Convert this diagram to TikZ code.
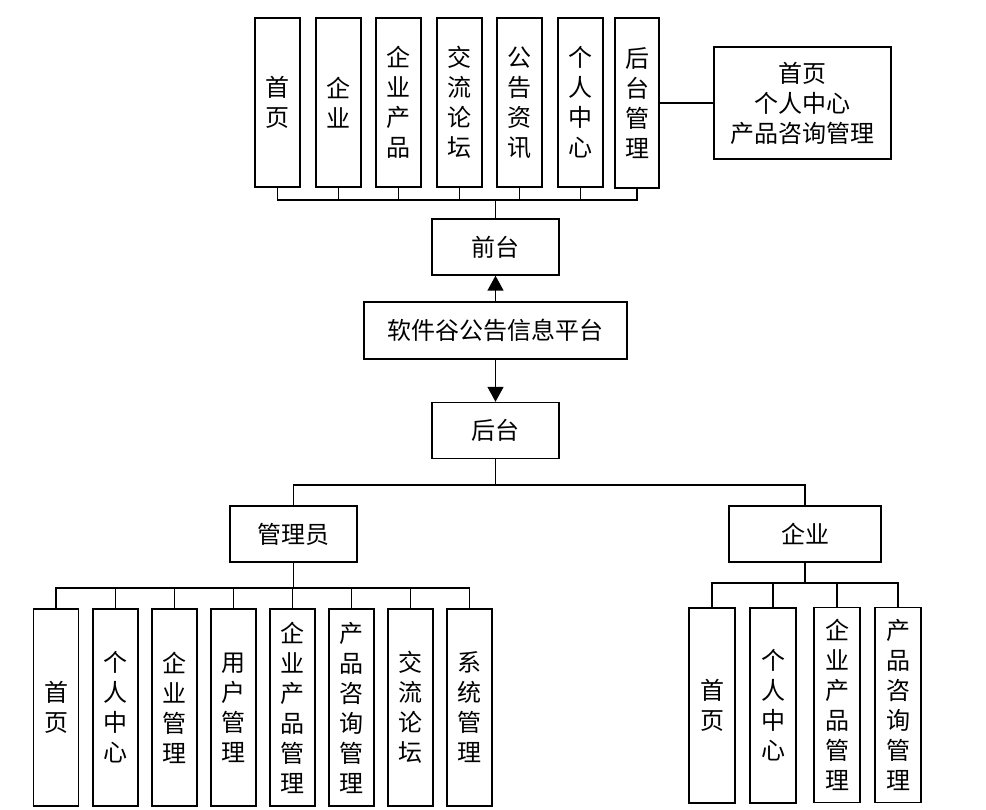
\documentclass[tikz,border=0pt]{standalone}
\usepackage{fontspec}
\setmainfont{Noto Sans CJK SC}
\usetikzlibrary{arrows.meta}

\begin{document}
\begin{tikzpicture}[x=1pt,y=-1pt,
    box/.style={draw,rectangle,line width=1.4pt,fill=white,text centered,
      inner sep=2pt,font=\fontsize{24}{30}\selectfont},
    tallbox/.style={box,align=center,minimum width=45pt},
    widebox/.style={box,minimum width=127pt,minimum height=56pt},
    link/.style={line width=1.4pt}]
    \path[use as bounding box,fill=white] (0,0) rectangle (986,810);
    % front pages
    \node[tallbox,minimum height=169pt] (home) at (277.5,102.5) {首\\页};
    \node[tallbox,minimum height=169pt] (company) at (338.5,102.5) {企\\业};
    \node[tallbox,minimum height=169pt] (product) at (398.5,102.5) {企\\业\\产\\品};
    \node[tallbox,minimum height=169pt] (forum) at (459.5,102.5) {交\\流\\论\\坛};
    \node[tallbox,minimum height=169pt] (notice) at (519.5,102.5) {公\\告\\资\\讯};
    \node[tallbox,minimum height=169pt] (personal) at (580.5,102.5) {个\\人\\中\\心};
    \node[tallbox,minimum height=170pt,minimum width=44pt] (admin) at (637,103) {后\\台\\管\\理};
    \node[box,align=center,minimum width=177pt,minimum height=112pt] (adminlist) at (802.5,103)
        {首页\\个人中心\\产品咨询管理};
    \draw[link] (admin) -- (adminlist);
    \coordinate (topbus) at (495.5,200);
    \draw[link] (home.south) |- (topbus);
    \draw[link] (company.south) |- (topbus);
    \draw[link] (product.south) |- (topbus);
    \draw[link] (forum.south) |- (topbus);
    \draw[link] (notice.south) |- (topbus);
    \draw[link] (personal.south) |- (topbus);
    \draw[link] (admin.south) |- (topbus);
    % platform
    \node[widebox] (front) at (495.5,247) {前台};
    \node[box,minimum width=263pt,minimum height=57pt] (platform) at (495.5,330.5) {软件谷公告信息平台};
    \node[widebox] (back) at (495.5,430.5) {后台};
    \draw[link] (topbus) -- (front.north);
    \draw[link,-{Triangle[length=15pt,width=16pt]}] (platform) -- (front);
    \draw[link,-{Triangle[length=15pt,width=16pt]}] (platform) -- (back);
    % back end roles
    \node[widebox] (manager) at (293.5,534) {管理员};
    \node[widebox,minimum width=152pt] (firm) at (805,534) {企业};
    \coordinate (backbus) at (495.5,485);
    \draw[link] (back.south) -- (backbus);
    \draw[link] (backbus) -| (manager.north);
    \draw[link] (backbus) -| (firm.north);
    % manager functions
    \node[tallbox,minimum height=197pt] (mhome) at (56,707.5) {首\\页};
    \node[tallbox,minimum height=197pt] (mpersonal) at (115.5,707.5) {个\\人\\中\\心};
    \node[tallbox,minimum height=197pt] (mfirm) at (174.5,707.5) {企\\业\\管\\理};
    \node[tallbox,minimum height=197pt] (muser) at (233.5,707.5) {用\\户\\管\\理};
    \node[tallbox,minimum height=197pt] (mproduct) at (292.5,707.5) {企\\业\\产\\品\\管\\理};
    \node[tallbox,minimum height=197pt] (mconsult) at (351.5,707.5) {产\\品\\咨\\询\\管\\理};
    \node[tallbox,minimum height=197pt] (mforum) at (410.5,707.5) {交\\流\\论\\坛};
    \node[tallbox,minimum height=197pt] (msystem) at (469.5,707.5) {系\\统\\管\\理};
    \coordinate (mbus) at (293.5,588);
    \draw[link] (manager.south) -- (mbus);
    \draw[link] (mbus) -| (mhome.north);
    \draw[link] (mbus) -| (mpersonal.north);
    \draw[link] (mbus) -| (mfirm.north);
    \draw[link] (mbus) -| (muser.north);
    \draw[link] (mbus) -| (mproduct.north);
    \draw[link] (mbus) -| (mconsult.north);
    \draw[link] (mbus) -| (mforum.north);
    \draw[link] (mbus) -| (msystem.north);
    % firm functions
    \node[tallbox,minimum height=195pt,minimum width=46pt] (fhome) at (712,705.5) {首\\页};
    \node[tallbox,minimum height=195pt,minimum width=46pt] (fpersonal) at (773,705.5) {个\\人\\中\\心};
    \node[tallbox,minimum height=195pt,minimum width=46pt] (fproduct) at (837,705) {企\\业\\产\\品\\管\\理};
    \node[tallbox,minimum height=195pt,minimum width=46pt] (fconsult) at (898,705) {产\\品\\咨\\询\\管\\理};
    \coordinate (fbus) at (805,583);
    \draw[link] (firm.south) -- (fbus);
    \draw[link] (fbus) -| (fhome.north);
    \draw[link] (fbus) -| (fpersonal.north);
    \draw[link] (fbus) -| (fproduct.north);
    \draw[link] (fbus) -| (fconsult.north);
\end{tikzpicture}
\end{document}
